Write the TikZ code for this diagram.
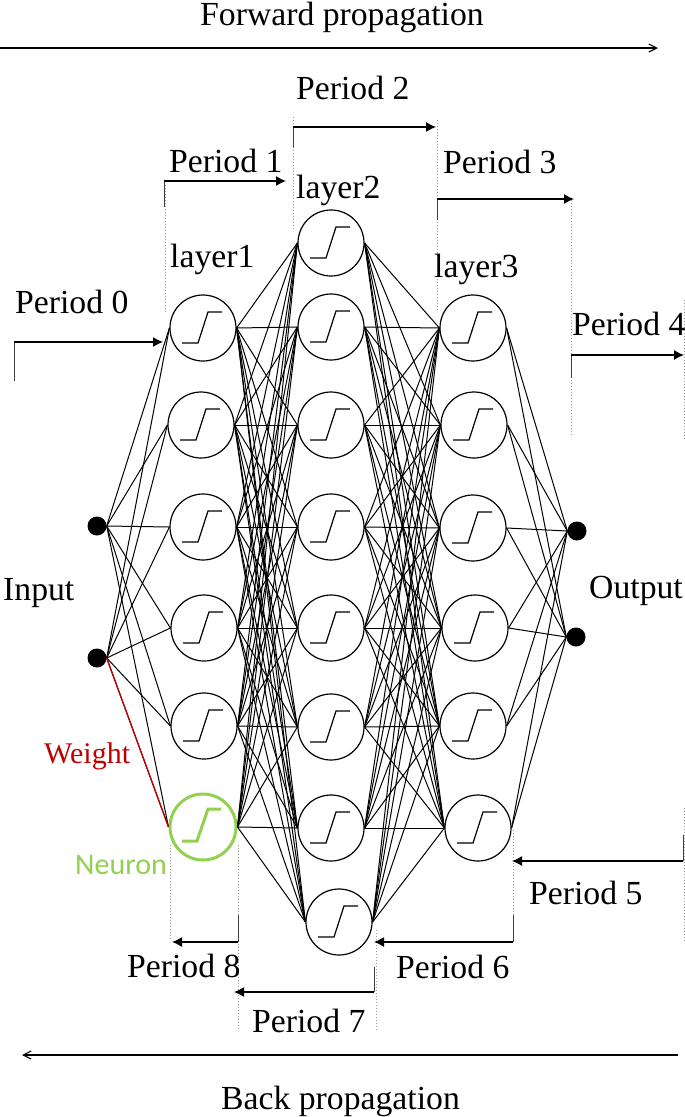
\documentclass[tikz,border=0pt]{standalone}
\usepackage{fontspec}
\setmainfont{Liberation Serif}
\newfontfamily\neuronfont{Carlito}
\newfontfamily\weightfont{Liberation Serif}
\usetikzlibrary{arrows.meta}
\definecolor{wred}{HTML}{C00000}
\definecolor{ngreen}{HTML}{92D050}
\definecolor{guide}{HTML}{9A9A9A}
\tikzset{
  neuron/.style={circle,draw=black,line width=1.2pt,minimum size=66pt,inner sep=0pt,fill=none},
  greenneuron/.style={circle,draw=ngreen,line width=3pt,minimum size=66pt,inner sep=0pt},
  dot/.style={circle,fill=black,draw=none,minimum size=19pt,inner sep=0pt},
  edge/.style={draw=black,line width=1pt},
  sig/.style={draw=black,line width=1.2pt},
  guideline/.style={draw=guide,dotted,line width=1pt},
  flow/.style={draw=black,line width=1.3pt,-{Latex[length=10pt,width=10pt]}},
  stem/.style={draw=black!75,line width=1pt},
  longflow/.style={draw=black,line width=1.1pt,-{Straight Barb[length=8pt,width=8pt]}},
  lab/.style={anchor=base west,inner sep=0pt,font=\rmfamily\fontsize{33.7}{36}\selectfont},
}
\begin{document}
\begin{tikzpicture}[x=1pt,y=-1pt]
\useasboundingbox (0,0) rectangle (685,1117);
% nodes
\foreach \n/\x/\y in {a1/203/328,a2/201/425,a3/203/527,a4/204/628,a5/204/726,
  b0/331/243,b1/331/327,b2/331/425,b3/331/527,b4/331/628,b5/331/727,b6/331/828,b7/339/922,
  c1/473/328,c2/474/425,c3/473/528,c4/475/628,c5/473/726,c6/478/828}
  {\node[neuron] (\n) at (\x,\y) {};
   \draw[sig] (\x-21,\y+15) -- (\x-5,\y+15) -- (\x+5,\y-16) -- (\x+19,\y-16);}
\node[greenneuron] (a6) at (203,827) {};
\draw[draw=ngreen,line width=3pt] (203-21,827+14) -- (203-6,827+14) -- (203+5,827-18) -- (203+18,827-18);
\node[dot] (i1) at (97,526) {};
\node[dot] (i2) at (97,658) {};
\node[dot] (o1) at (577,531) {};
\node[dot] (o2) at (576,637) {};
% weights
\foreach \s in {i1,i2}\foreach \t in {a1,a2,a3,a4,a5,a6}
  \draw[edge] (\s.east) -- (\t.west);
\draw[draw=wred,line width=1.3pt] (i2.east) -- (a6.west);
\foreach \s in {a1,a2,a3,a4,a5,a6}\foreach \t in {b0,b1,b2,b3,b4,b5,b6,b7}
  \draw[edge] (\s.east) -- (\t.west);
\foreach \s in {b0,b1,b2,b3,b4,b5,b6,b7}\foreach \t in {c1,c2,c3,c4,c5,c6}
  \draw[edge] (\s.east) -- (\t.west);
\foreach \s in {c1,c2,c3,c4,c5,c6}\foreach \t in {o1,o2}
  \draw[edge] (\s.east) -- (\t.west);
% guides
\foreach \x/\ya/\yb in {165/185/312,293/117/230,437/120/312,571/200/435,684/300/440,
   170/845/940,238/845/1030,376/930/1032,513/830/942,684/808/942}
  \draw[guideline] (\x,\ya) -- (\x,\yb);
% period arrows
\foreach \x/\ya/\yb in {14/381/342,164/207/181,293/147/127,437/220/199,571/378/355,
   683/835/861,513/915/942,374/967/992,238/915/942}
  \draw[stem] (\x,\ya) -- (\x,\yb);
\draw[flow] (14,342) -- (163,342);
\draw[flow] (164,181) -- (286,181);
\draw[flow] (293,127) -- (436,127);
\draw[flow] (437,199) -- (574,199);
\draw[flow] (571,355) -- (684,355);
\draw[flow] (683,861) -- (512,861);
\draw[flow] (513,942) -- (374,942);
\draw[flow] (374,992) -- (234,992);
\draw[flow] (238,942) -- (172,942);
\draw[longflow] (0,48) -- (658,48);
\draw[longflow] (678,1055) -- (22,1055);
% labels
\node[lab] (t1) at (200,25) {Forward propagation};
\node[lab] (t2) at (221,1109) {Back propagation};
\node[lab] (p0) at (15,313) {Period 0};
\node[lab] (p1) at (169,172) {Period 1};
\node[lab] (p2) at (296,99) {Period 2};
\node[lab] (p3) at (443,173) {Period 3};
\node[lab] (p4) at (572,335) {Period 4};
\node[lab] (p5) at (529,904) {Period 5};
\node[lab] (p6) at (396,978) {Period 6};
\node[lab] (p7) at (252,1032) {Period 7};
\node[lab] (p8) at (127,977) {Period 8};
\node[lab] (l1) at (170,267) {layer1};
\node[lab] (l2) at (296,198) {layer2};
\node[lab] (l3) at (434,277) {layer3};
\node[lab] (inp) at (3,600) {Input};
\node[lab] (out) at (589,598) {Output};
\node[lab,text=wred,font=\weightfont\fontsize{30}{32}\selectfont] (w) at (44,763) {Weight};
\node[lab,text=ngreen,font=\neuronfont\fontsize{30}{32}\selectfont] (nn) at (75,874) {Neuron};
\end{tikzpicture}
\end{document}
